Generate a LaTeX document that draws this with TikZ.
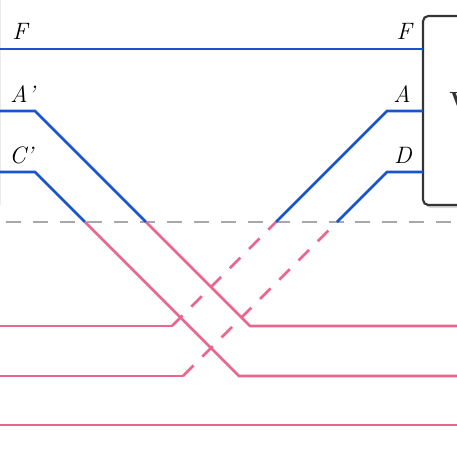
\documentclass[tikz,border=0pt]{standalone}
\usetikzlibrary{positioning}
\definecolor{wireblue}{RGB}{24,84,204}
\definecolor{wirepink}{RGB}{232,102,142}
\definecolor{sepgray}{RGB}{168,168,172}
\definecolor{boxgray}{RGB}{52,52,52}
\begin{document}
\begin{tikzpicture}[x=0.02cm, y=-0.02cm,
  blueline/.style={wireblue, line width=1.6pt},
  pinkline/.style={wirepink, line width=1.6pt},
  pinkdash/.style={wirepink, line width=1.6pt, dash pattern=on 8.5pt off 7pt},
  sepline/.style={sepgray, line width=1.2pt, dash pattern=on 8.5pt off 6.8pt},
  lbl/.style={inner sep=0pt, font=\fontsize{13.5}{15}\selectfont\itshape}]
\useasboundingbox (0,0) rectangle (457,457);
\begin{scope}
\clip (0,0) rectangle (457,457);
\fill[black!8] (0,0) rectangle (1.5,205);
\fill[black!15, rounded corners=3pt] (425,18) rectangle (480,208);
\draw[boxgray, line width=1.2pt, fill=white, rounded corners=3pt] (423,16) rectangle (480,205);
\node[anchor=base west, inner sep=0pt, font=\fontsize{15}{17}\selectfont\bfseries, text=boxgray] (wtxt) at (449,110) {W};
\end{scope}
\coordinate (s0) at (6,222);
\coordinate (s1) at (457,222);
\draw[sepline] (s0) -- (s1);
\coordinate (f0) at (0,49);
\coordinate (f1) at (423,49);
\coordinate (ap0) at (0,111);
\coordinate (ap1) at (35,111);
\coordinate (ap2) at (146,222);
\coordinate (ap3) at (250,326);
\coordinate (ap4) at (457,326);
\coordinate (cp0) at (0,172);
\coordinate (cp1) at (35,172);
\coordinate (cp2) at (85,222);
\coordinate (cp3) at (239,376);
\coordinate (cp4) at (457,376);
\coordinate (a0) at (423,111);
\coordinate (a1) at (387,111);
\coordinate (a2) at (276,222);
\coordinate (a3) at (172,326);
\coordinate (a4) at (0,326);
\coordinate (d0) at (423,172);
\coordinate (d1) at (387,172);
\coordinate (d2) at (337,222);
\coordinate (d3) at (183,376);
\coordinate (d4) at (0,376);
\coordinate (b0) at (0,425);
\coordinate (b1) at (457,425);
\draw[blueline] (f0) -- (f1);
\draw[blueline] (ap0) -- (ap1) -- (ap2);
\draw[pinkline] (ap2) -- (ap3) -- (ap4);
\draw[blueline] (cp0) -- (cp1) -- (cp2);
\draw[pinkline] (cp2) -- (cp3) -- (cp4);
\draw[blueline] (a0) -- (a1) -- (a2);
\draw[pinkdash] (a3) -- (a2);
\draw[pinkline] (a3) -- (a4);
\draw[blueline] (d0) -- (d1) -- (d2);
\draw[pinkdash] (d3) -- (d2);
\draw[pinkline] (d3) -- (d4);
\draw[pinkline] (b0) -- (b1);
\node[lbl, anchor=base west] (lf) at (12,39) {F};
\node[lbl, anchor=base west] (lap) at (10,102) {A'};
\node[lbl, anchor=base west] (lcp) at (9,163) {C'};
\node[lbl, anchor=base east] (rf) at (412,39) {F};
\node[lbl, anchor=base east] (ra) at (411,102) {A};
\node[lbl, anchor=base east] (rd) at (412,163) {D};
\end{tikzpicture}
\end{document}
